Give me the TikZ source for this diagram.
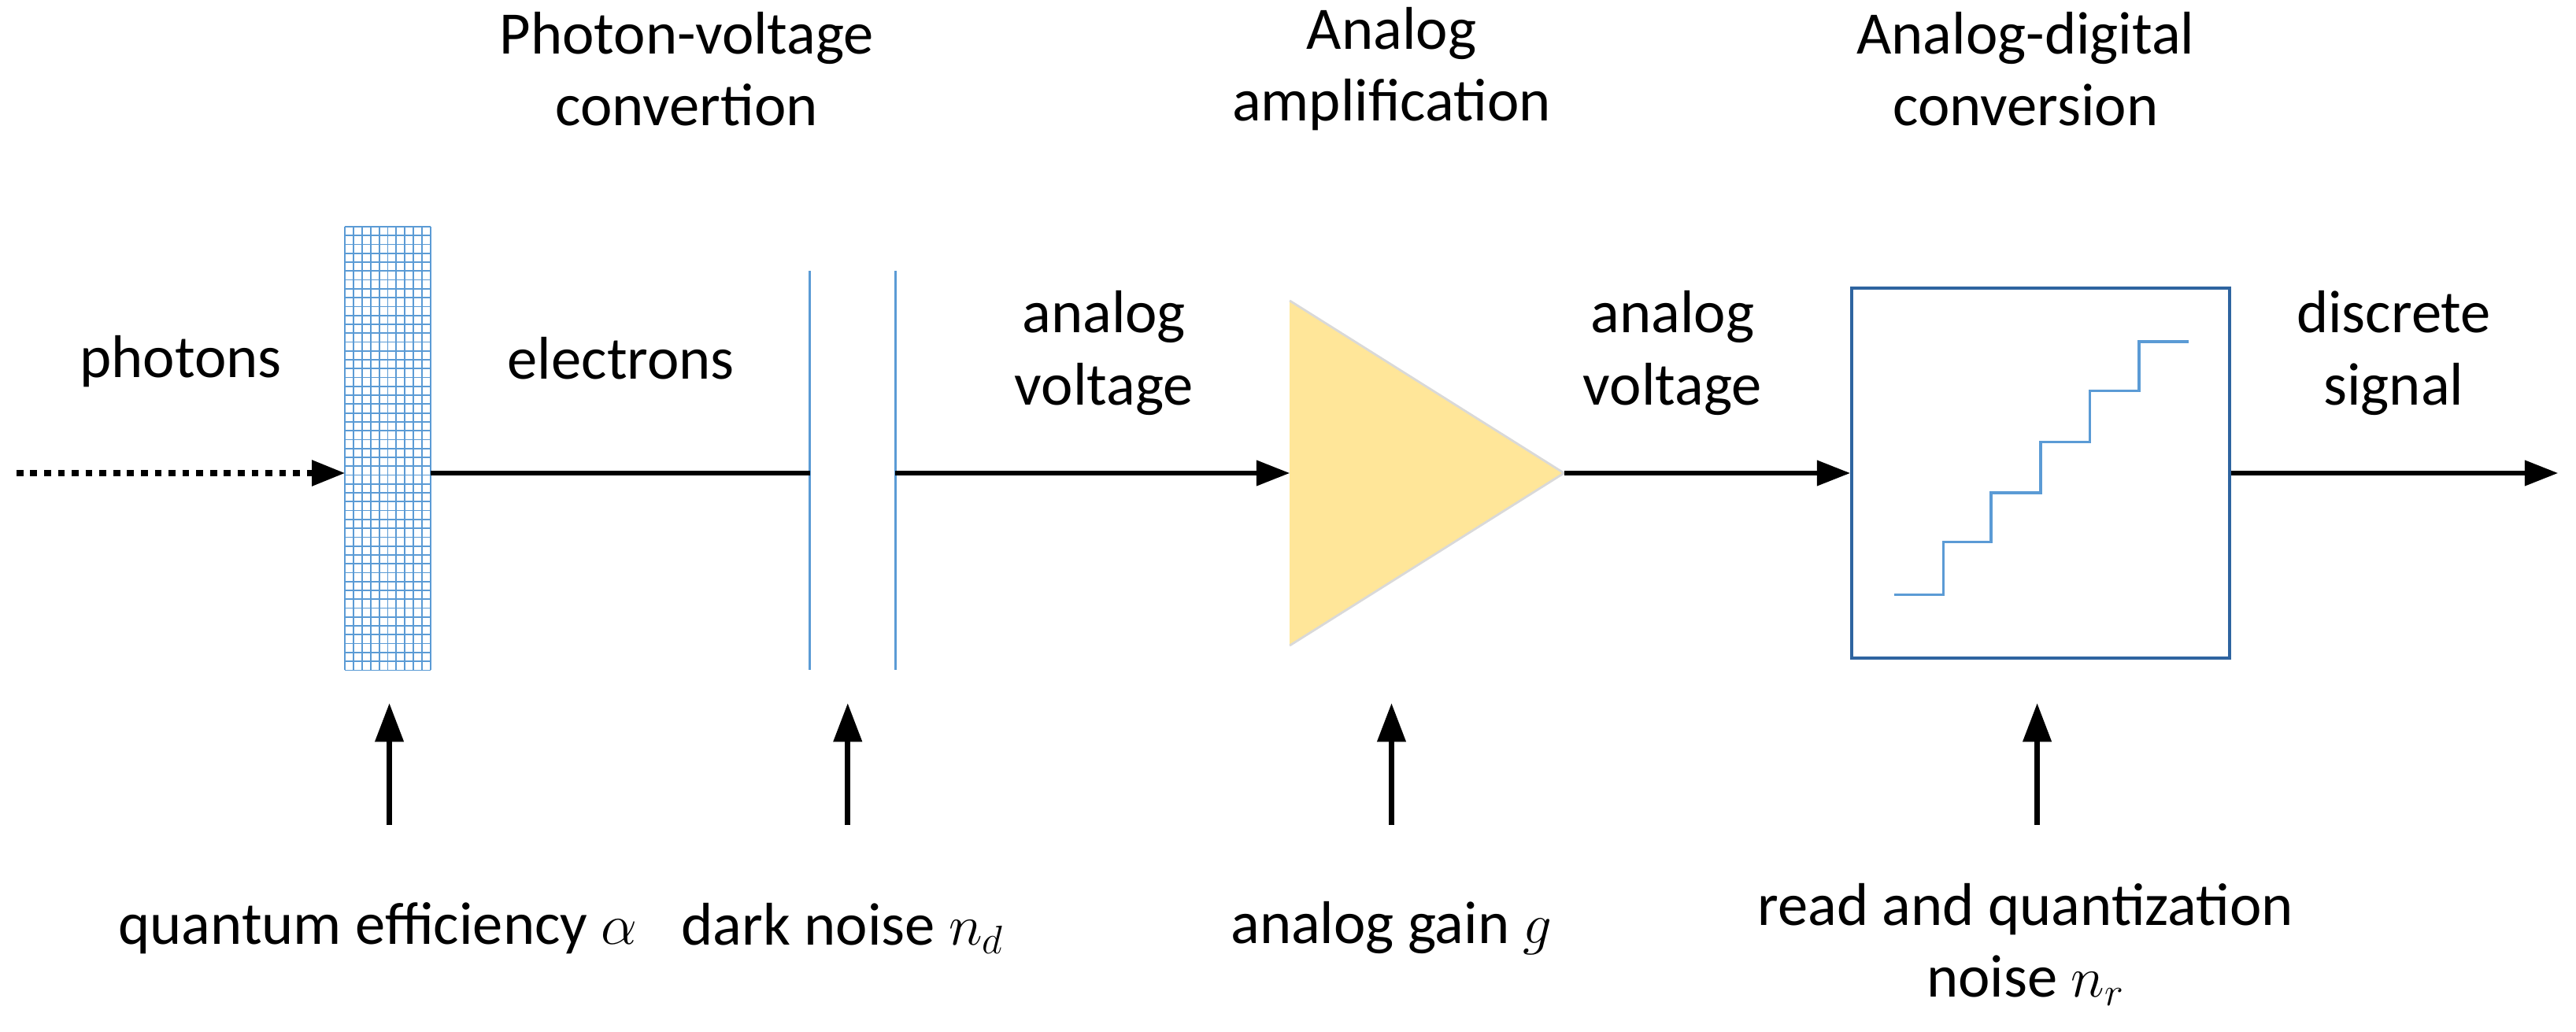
\documentclass[tikz,border=0pt]{standalone}
\usepackage{amsmath}
\usepackage{fontspec}
\setmainfont{Carlito}
\usetikzlibrary{positioning,shapes.geometric,arrows.meta}
\definecolor{gridblue}{RGB}{91,155,213}
\definecolor{boxblue}{RGB}{46,100,160}
\definecolor{ampyellow}{RGB}{255,230,153}
\begin{document}
\begin{tikzpicture}[x=0.02087cm,y=-0.02087cm,
    lbl/.style={font=\fontsize{21.8}{26}\selectfont, align=center},
    arr/.style={line width=1.5pt,-{Stealth[length=12pt,width=9pt,inset=0pt]}},
    up/.style={line width=2pt,-{Stealth[length=14pt,width=10pt,inset=0pt]}}]
    \useasboundingbox (0,0) rectangle (1568,628);

    % blocks
    \node (grid) at (236,273) [draw=none, minimum width=52*0.02087cm, minimum height=270*0.02087cm, inner sep=0] {};
    \foreach \x in {210,215.2,...,263} { \draw[gridblue, line width=0.5pt] (\x,138) -- (\x,408); }
    \foreach \y in {138,143.4,...,409} { \draw[gridblue, line width=0.5pt] (210,\y) -- (262,\y); }
    \draw[gridblue, line width=0.8pt] (493,165) -- (493,408);
    \draw[gridblue, line width=0.8pt] (545,165) -- (545,408);
    \coordinate (capl) at (493,288);
    \coordinate (capr) at (545,288);
    \fill[ampyellow] (785,183) -- (952,288) -- (785,393) -- cycle;
    \draw[gray!30, line width=0.8pt] (785,183) -- (952,288) -- (785,393);
    \coordinate (ampin) at (785,288);
    \coordinate (ampout) at (952,288);
    \node (adc) at (1242,288) [draw=boxblue, line width=1pt, minimum width=230*0.02087cm, minimum height=225*0.02087cm, inner sep=0] {};
    \draw[gridblue, line width=1pt] (1153,362) -- (1183,362) -- (1183,330) -- (1212,330) -- (1212,300) -- (1242,300) -- (1242,269) -- (1272,269) -- (1272,238) -- (1302,238) -- (1302,208) -- (1332,208);

    % signal path
    \coordinate (start) at (10,288);
    \coordinate (end) at (1557,288);
    \draw[line width=2pt, dash pattern=on 2.5pt off 2.5pt, -{Stealth[length=12pt,width=9pt,inset=0pt]}] (start) -- (210,288);
    \draw[line width=1.5pt] (262,288) -- (capl);
    \draw[arr] (capr) -- (ampin);
    \draw[arr] (ampout) -- (adc.west);
    \draw[arr] (adc.east) -- (end);

    % signal labels
    \node (ph) at (110,220) [lbl] {photons};
    \node (el) at (378,218) [lbl] {electrons};
    \node (av1) at (672,215) [lbl] {analog\\voltage};
    \node (av2) at (1018,215) [lbl] {analog\\voltage};
    \node (ds) at (1457,215) [lbl] {discrete\\signal};

    % stage titles
    \node (t1) at (418,42) [lbl] {Photon-voltage\\convertion};
    \node (t2) at (847,42) [lbl] {Analog\\amplification};
    \node (t3) at (1233,42) [lbl] {Analog-digital\\conversion};

    % parameters
    \node (p1) at (230,565) [lbl] {quantum efficiency $\alpha$};
    \node (p2) at (513,565) [lbl] {dark noise $n_d$};
    \node (p3) at (847,565) [lbl] {analog gain $g$};
    \node (p4) at (1233,575) [lbl] {read and quantization\\noise $n_r$};
    \foreach \x/\n in {237/a, 516/b, 847/c, 1240/d} {
      \coordinate (b\n) at (\x,502);
      \coordinate (u\n) at (\x,428);
      \draw[up] (b\n) -- (u\n);
    }
\end{tikzpicture}
\end{document}
